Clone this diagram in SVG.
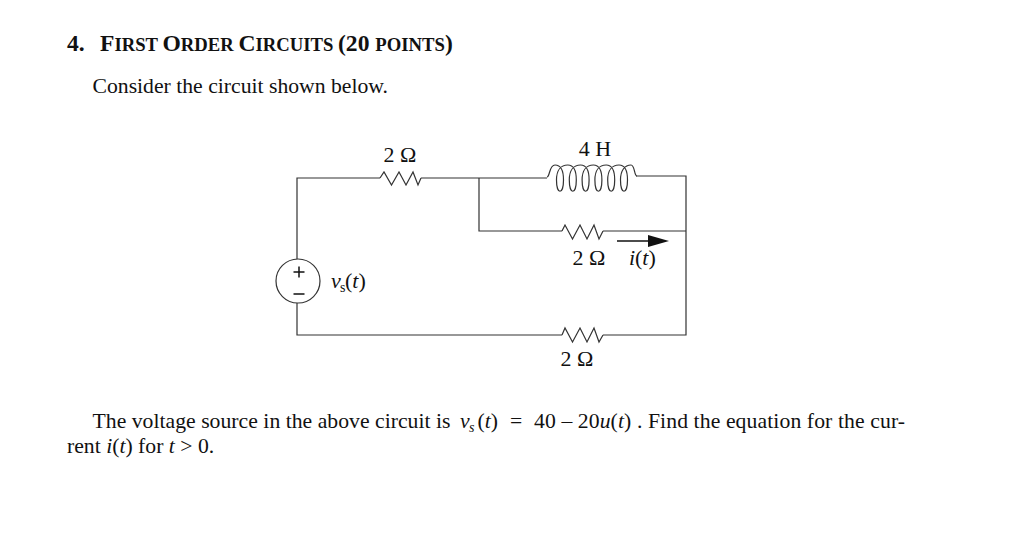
<svg xmlns="http://www.w3.org/2000/svg" width="1024" height="546" viewBox="0 0 1024 546">
<style>
text{font-family:"Liberation Serif","Times New Roman",serif;fill:#111}
.b{font-size:21.7px}
.h{font-size:23.6px;font-weight:700}
.hs{font-size:18.7px;font-weight:700}
.l{font-size:22px}
.i{font-style:italic}
.sub{font-size:14px}
.w{fill:none;stroke:#333;stroke-width:1.2}
</style>
<rect width="1024" height="546" fill="#fff"/>
<text class="h" x="67" y="51">4.<tspan x="100">F</tspan><tspan class="hs">IRST </tspan>O<tspan class="hs">RDER </tspan>C<tspan class="hs">IRCUITS </tspan>(20 <tspan class="hs">POINTS</tspan>)</text>
<text class="b" x="92.500" y="93">Consider the circuit shown below.</text>
<g id="connectors">
<path class="w" d="M297 259V178H380M421 178H547M636 176H686V335H603M562 335H297V303"/>
<path class="w" d="M479 178V231H562M603 231H686"/>
<path d="M617 241H650" fill="none" stroke="#111" stroke-width="1.300"/>
<path d="M648 235L669 241L648 247Z" fill="#111"/>
</g>
<g id="r1"><path class="w" d="M380 178L384 172L391.500 185L399 172L406 185L413 172L418 185L421 178"/><text class="l" x="400" y="162" text-anchor="middle">2 Ω</text></g>
<g id="l1"><path class="w" d="M547 177C550 177 549 165 555 165C560 165 563.500 170 563.500 180C563.500 195 556.500 195 556.500 180C556.500 170 561 165 567.800 165C572.800 165 576.300 170 576.300 180C576.300 195 569.300 195 569.300 180C569.300 170 573.800 165 580.600 165C585.600 165 589.100 170 589.100 180C589.100 195 582.100 195 582.100 180C582.100 170 586.600 165 593.400 165C598.400 165 601.900 170 601.900 180C601.900 195 594.900 195 594.900 180C594.900 170 599.400 165 606.200 165C611.200 165 614.700 170 614.700 180C614.700 195 607.700 195 607.700 180C607.700 170 612.200 165 619 165C624 165 627.500 170 627.500 180C627.500 195 620.500 195 620.500 180C620.500 170 625 165 631 165C635 165 634 176 637 176"/><text class="l" x="595" y="156" text-anchor="middle">4 H</text></g>
<g id="r2"><path class="w" d="M562 231L565 225L572.500 239L580 225L587 239L594 225L599 239L603 231"/><text class="l" x="589" y="265" text-anchor="middle">2 Ω</text><text class="l i" x="629" y="265">i</text><text class="l" x="635" y="265">(<tspan class="i">t</tspan>)</text></g>
<g id="r3"><path class="w" d="M562 335L565 328L572.500 342L580 328L587 342L594 328L599 342L603 335"/><text class="l" x="577" y="366" text-anchor="middle">2 Ω</text></g>
<g id="vs"><circle cx="298" cy="281" r="22" fill="none" stroke="#333" stroke-width="1.200"/><path d="M293.500 272H304.500M299 266.500V277.500M293.500 294H304.500" fill="none" stroke="#111" stroke-width="1.500"/><text class="l i" x="331" y="288">v</text><text class="sub" x="340" y="292">s</text><text class="l" x="345" y="288">(<tspan class="i">t</tspan>)</text></g>
<text class="b" x="92.500" y="428" textLength="358">The voltage source in the above circuit is</text>
<text class="b i" x="460" y="428">v</text><text class="sub i" x="469" y="432">s</text><text class="b" x="477.500" y="428">(<tspan class="i">t</tspan>)</text>
<text class="b" x="510" y="428">=</text>
<text class="b" x="534" y="428" textLength="371">40 – 20<tspan class="i">u</tspan>(<tspan class="i">t</tspan>) . Find the equation for the cur-</text>
<text class="b" x="67" y="453">rent <tspan class="i">i</tspan>(<tspan class="i">t</tspan>) for <tspan class="i">t</tspan> &gt; 0.</text>
</svg>
